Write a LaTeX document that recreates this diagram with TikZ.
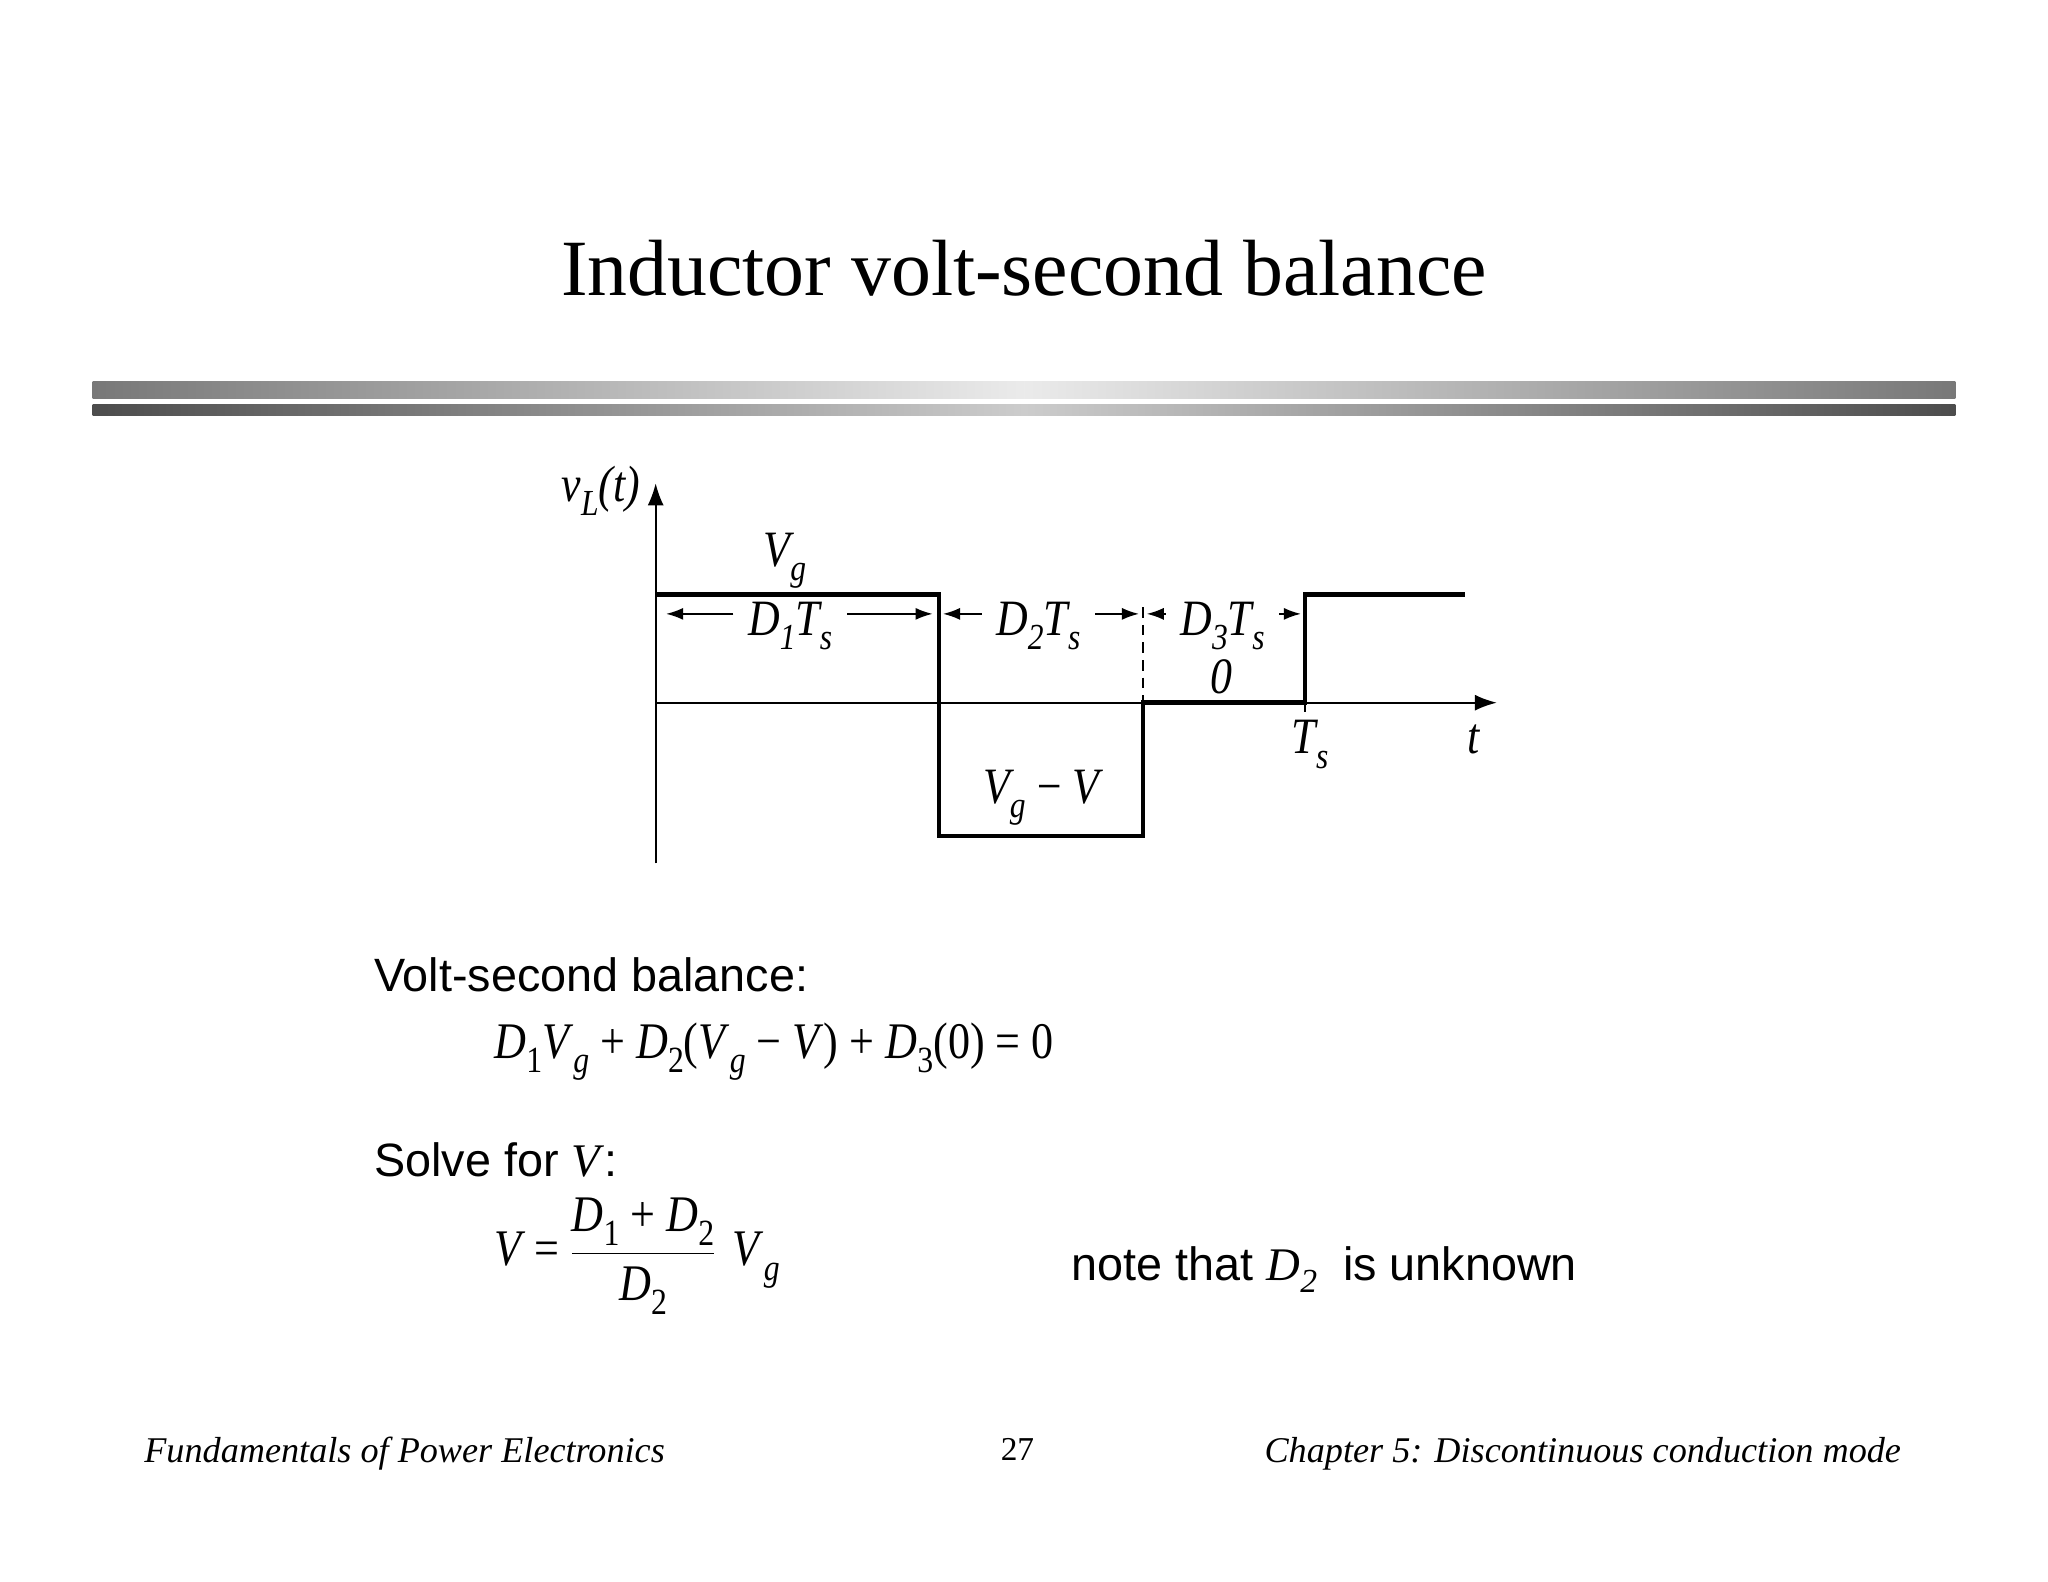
\documentclass[tikz,border=0pt]{standalone}
\usepackage{fontspec}
\usepackage{graphicx}
\setmainfont{Liberation Serif}
\setsansfont{Liberation Sans}
\newfontfamily\narrowserif[FakeStretch=0.86]{Liberation Serif}
\usetikzlibrary{arrows.meta}

\definecolor{barend}{gray}{0.47}
\definecolor{barmid}{gray}{0.92}
\definecolor{barenddark}{gray}{0.30}
\definecolor{barmiddark}{gray}{0.80}

% lowered subscript, and italic variable with one
\newcommand{\lsub}[1]{\raisebox{-0.6ex}{\scalebox{0.72}{#1}}}
\newcommand{\iv}[2]{\textit{#1}\lsub{#2}}

\tikzset{
  axisline/.style={line width=0.5pt},
  wave/.style={line width=1.3pt},
  dimarrow/.style={line width=0.45pt, -{Latex[length=1.7mm,width=1.2mm]}},
  lbl/.style={font=\narrowserif\fontsize{14.5}{16}\selectfont\itshape, inner sep=1pt},
  dimlbl/.style={lbl, inner xsep=4pt},
  body/.style={font=\sffamily\fontsize{13.3}{16}\selectfont, anchor=west, inner sep=0pt},
  mathtxt/.style={font=\narrowserif\fontsize{14.6}{17}\selectfont, anchor=west, inner sep=0pt},
  footer/.style={font=\fontsize{10.3}{12}\selectfont\itshape, inner sep=0pt}
}

\begin{document}
\begin{tikzpicture}[x=0.013061cm, y=-0.013061cm, >={Latex[length=2.2mm,width=1.6mm]}]
    \useasboundingbox (0,0) rectangle (1568,1211);

    % Title and rule
    \node[font=\fontsize{22.7}{27}\selectfont] (title) at (784,205) {Inductor volt-second balance};
    \shade[left color=barend, right color=barend, middle color=barmid] (71,292) rectangle (1497,305);
    \shade[left color=barenddark, right color=barenddark, middle color=barmiddark] (71,310) rectangle (1497,318);

    % Axes
    \draw[axisline, ->] (502,661) -- (502,370);
    \draw[axisline, ->] (502,538) -- (1146,538);
    \node[lbl] (vl) at (460,376) {v\lsub{L}(t)};
    \node[lbl] (tax) at (1128,566) {t};

    % Waveform
    \draw[wave] (502,455) -- (719,455) -- (719,640) -- (875,640) -- (875,538)
        -- (999,538) -- (999,455) -- (1122,455);
    \draw[axisline, dash pattern=on 3pt off 2pt] (875,465) -- (875,538);
    \draw[axisline] (999,538) -- (999,545);

    % Levels
    \node[lbl] (vg) at (601,429) {V\lsub{g}};
    \node[lbl] (zero) at (935,518) {0};
    \node[lbl] (vgv) at (797,611) {V\lsub{g}\,−\,V};
    \node[lbl] (ts) at (1003,570) {T\lsub{s}};

    % Intervals
    \node[dimlbl] (d1) at (605,479) {D\lsub{1}T\lsub{s}};
    \node[dimlbl] (d2) at (795,479) {D\lsub{2}T\lsub{s}};
    \node[dimlbl] (d3) at (936,479) {D\lsub{3}T\lsub{s}};
    \coordinate (d1l) at (510,470);
    \coordinate (d1r) at (714,470);
    \coordinate (d2l) at (722,470);
    \coordinate (d2r) at (872,470);
    \coordinate (d3l) at (878,470);
    \coordinate (d3r) at (996,470);
    \draw[dimarrow] (d1.west |- d1l) -- (d1l);
    \draw[dimarrow] (d1.east |- d1r) -- (d1r);
    \draw[dimarrow] (d2.west |- d2l) -- (d2l);
    \draw[dimarrow] (d2.east |- d2r) -- (d2r);
    \draw[dimarrow] (d3.west |- d3l) -- (d3l);
    \draw[dimarrow] (d3.east |- d3r) -- (d3r);

    % Equations
    \node[body] (vsb) at (286,746) {Volt-second balance:};
    \node[mathtxt] (eqa) at (378,805) {\iv{D}{1}\iv{V}{\textit{g}} + \iv{D}{2}(\iv{V}{\textit{g}} − \textit{V}) + \iv{D}{3}(0) = 0};
    \node[body] (solve) at (286,888) {Solve for \textrm{\itshape V}:};
    \node[mathtxt] (eqb) at (378,962) {\textit{V}\,=\,$\displaystyle\frac{\mbox{\iv{D}{1} + \iv{D}{2}}}{\mbox{\iv{D}{2}}}$\;\iv{V}{\textit{g}}};
    \node[body] (note) at (820,972) {note that \textrm{\iv{D}{\textit{2}}}\ \ is unknown};

    % Footer
    \node[footer, anchor=west] (book) at (110,1113) {Fundamentals of Power Electronics};
    \node[footer, font=\fontsize{9.5}{11}\selectfont] (page) at (779,1110) {27};
    \node[footer, anchor=east] (chap) at (1456,1113) {Chapter 5: Discontinuous conduction mode};
\end{tikzpicture}
\end{document}
